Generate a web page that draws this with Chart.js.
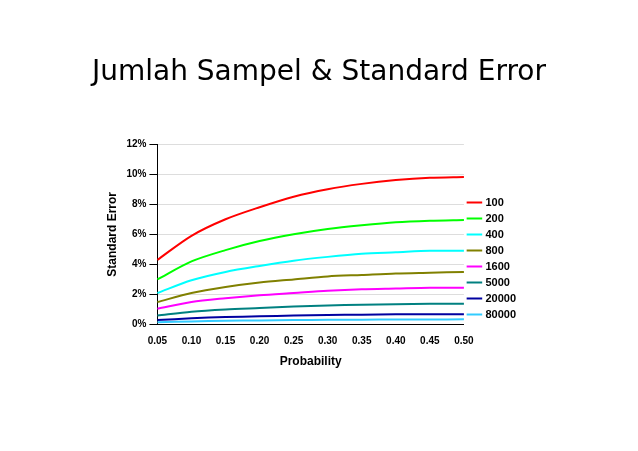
<!DOCTYPE html>
<html><head><meta charset="utf-8">
<script src="https://cdn.jsdelivr.net/npm/chart.js@4/dist/chart.umd.min.js"></script>
<style>html,body{margin:0;padding:0;background:#fff}#w{width:638px;height:451px;position:relative}
#t{position:absolute;left:0;width:638px;top:54px;text-align:center;font-family:'DejaVu Sans';font-size:28px;color:#000}</style>
</head><body><div id="w"><canvas id="c"></canvas><div id="t">Jumlah Sampel &amp; Standard Error</div></div>
<script>
const probs=["0.05","0.10","0.15","0.20","0.25","0.30","0.35","0.40","0.45","0.50"];
const labels=["100","200","400","800","1600","5000","20000","80000"];
const colors=["#ff0000","#00ff00","#00ffff","#808000","#ff00ff","#008080","#0000a0","#33ccff"];
const s100=[4.3,5.9,7.0,7.8,8.5,9.0,9.35,9.6,9.75,9.8];
const s200=[3.0,4.2,4.95,5.55,6.0,6.35,6.6,6.8,6.9,6.95];
const s400=[2.1,2.95,3.5,3.9,4.25,4.5,4.7,4.8,4.9,4.9];
const s800=[1.5,2.1,2.5,2.8,3.0,3.2,3.3,3.4,3.45,3.5];
const s1600=[1.05,1.5,1.75,1.95,2.1,2.25,2.35,2.4,2.45,2.45];
const s5000=[0.6,0.85,1.0,1.1,1.2,1.27,1.32,1.36,1.38,1.39];
const s20000=[0.3,0.42,0.5,0.55,0.6,0.64,0.66,0.68,0.69,0.69];
const s80000=[0.15,0.21,0.25,0.28,0.3,0.32,0.33,0.34,0.34,0.35];
const series=[s100,s200,s400,s800,s1600,s5000,s20000,s80000];
new Chart(document.getElementById('c'),{type:'line',
data:{labels:probs,datasets:series.map((d,i)=>({label:labels[i],data:d,borderColor:colors[i],backgroundColor:colors[i],borderWidth:2,pointRadius:0,tension:0.3}))},
options:{responsive:true,maintainAspectRatio:false,animation:false,
layout:{padding:{left:101,right:112,top:144,bottom:78}},
plugins:{legend:{position:'right',align:'center',labels:{usePointStyle:true,pointStyle:'line',boxWidth:30,color:'#000',font:{family:'Liberation Sans',size:11,weight:'bold'},padding:5}}},
scales:{x:{offset:false,grid:{display:false},border:{color:'#000'},title:{display:true,text:'Probability',color:'#000',font:{family:'Liberation Sans',size:12,weight:'bold'}},ticks:{color:'#000',maxRotation:0,font:{family:'Liberation Sans',size:10,weight:'bold'}}},
y:{min:0,max:12,grid:{color:'#ddd',tickColor:'#000'},border:{color:'#000'},title:{display:true,text:'Standard Error',color:'#000',font:{family:'Liberation Sans',size:12,weight:'bold'}},ticks:{stepSize:2,color:'#000',callback:v=>v+'%',font:{family:'Liberation Sans',size:10,weight:'bold'}}}}}});
</script></body></html>
